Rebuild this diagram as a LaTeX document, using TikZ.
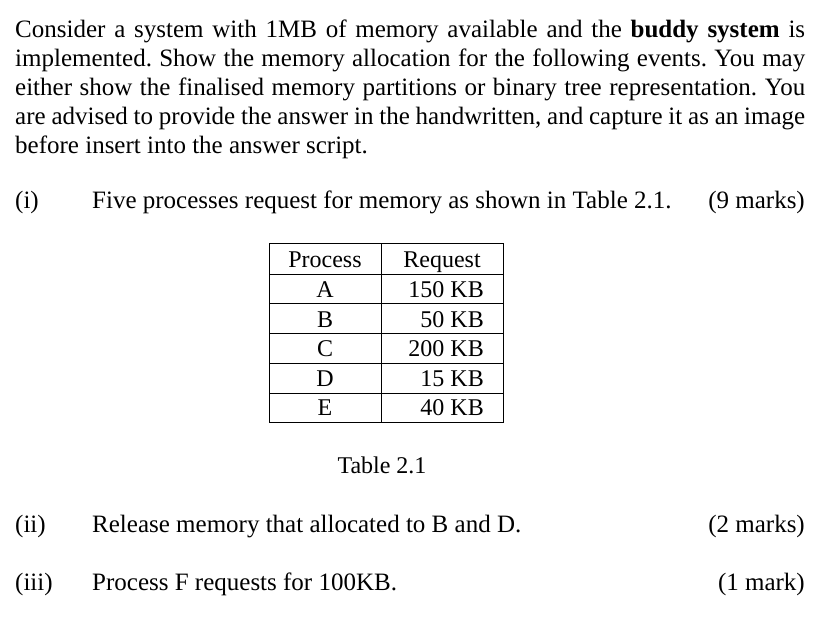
\documentclass[tikz,border=0pt]{standalone}
\usepackage{fontspec}
\setmainfont{Liberation Serif}
\frenchspacing
\begin{document}
\begin{tikzpicture}[x=1pt,y=-1pt,
  txt/.style={anchor=base west,inner sep=0pt,font=\fontsize{25}{29}\selectfont},
  tb/.style={inner sep=0pt,font=\fontsize{24}{28}\selectfont},
  grid/.style={line width=0.8pt}]
\useasboundingbox (0,0) rectangle (821,619);
\node[txt] (l1) at (15,37) {\makebox[790pt][s]{Consider a system with 1MB of memory available and the \textbf{buddy system} is}};
\node[txt] (l2) at (15,66) {\makebox[790pt][s]{implemented. Show the memory allocation for the following events. You may}};
\node[txt] (l3) at (15,95) {\makebox[790pt][s]{either show the finalised memory partitions or binary tree representation. You}};
\node[txt] (l4) at (15,124) {\makebox[790pt][s]{are advised to provide the answer in the handwritten, and capture it as an image}};
\node[txt] (l5) at (15,153) {before insert into the answer script.};
\node[txt] (i) at (15,208) {(i)};
\node[txt] (it) at (92,208) {Five processes request for memory as shown in Table 2.1.};
\node[txt,anchor=base east] (im) at (805,208) {(9 marks)};
% table
\draw[grid] (269,243) rectangle (503,422);
\draw[grid] (381,243) -- (381,422);
\foreach \y in {274,303,333,363,393} \draw[grid] (269,\y) -- (503,\y);
\node[tb,anchor=base] (h1) at (325,267) {Process};
\node[tb,anchor=base] (h2) at (442,267) {Request};
\foreach \n/\p/\r/\y in {a/A/150 KB/297,b/B/50 KB/327,c/C/200 KB/356,d/D/15 KB/386,e/E/40 KB/415}{
  \node[tb,anchor=base] (p\n) at (325,\y) {\p};
  \node[tb,anchor=base east] (r\n) at (484,\y) {\r};
}
\node[tb,anchor=base] (cap) at (382,473) {Table 2.1};
\node[txt] (ii) at (15,532) {(ii)};
\node[txt] (iit) at (92,532) {Release memory that allocated to B and D.};
\node[txt,anchor=base east] (iim) at (805,532) {(2 marks)};
\node[txt] (iii) at (15,590) {(iii)};
\node[txt] (iiit) at (92,590) {Process F requests for 100KB.};
\node[txt,anchor=base east] (iiim) at (805,590) {(1 mark)};
\end{tikzpicture}
\end{document}
